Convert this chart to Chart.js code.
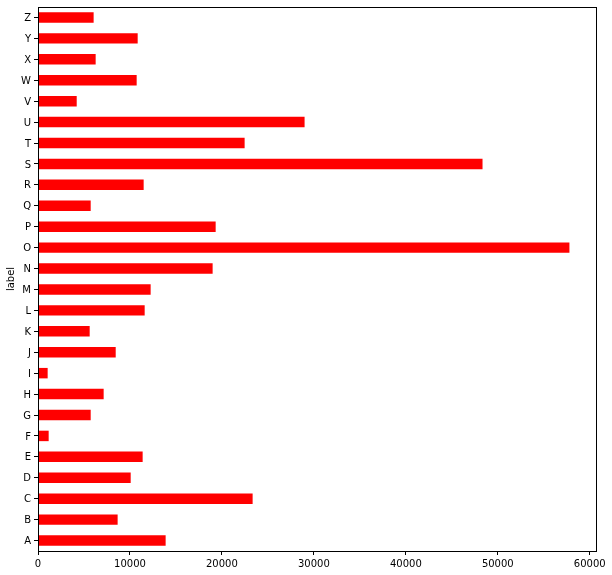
<!DOCTYPE html>
<html>
<head>
<meta charset="utf-8">
<script src="https://cdn.jsdelivr.net/npm/chart.js@4/dist/chart.umd.min.js"></script>
<style>
  html, body { margin: 0; padding: 0; background: #ffffff; }
  #wrap { width: 612px; height: 575px; }
</style>
</head>
<body>
<div id="wrap"><canvas id="c" width="612" height="575"></canvas></div>
<script>
const categories = ["A","B","C","D","E","F","G","H","I","J","K","L","M","N","O","P","Q","R","S","T","U","V","W","X","Y","Z"];
const values = [13880, 8660, 23340, 10080, 11380, 1160, 5730, 7140, 1050, 8450, 5620, 11600, 12250, 18990, 57790, 19320, 5730, 11490, 48340, 22470, 28990, 4210, 10730, 6270, 10840, 6050];
const xTicks = [0, 10000, 20000, 30000, 40000, 50000, 60000];
const yAxisTitle = "label";

const FONT = { family: "'DejaVu Sans', sans-serif", size: 10 };

const framePlugin = {
  id: 'frame',
  afterDraw(chart) {
    const a = chart.chartArea;
    const ctx = chart.ctx;
    ctx.save();
    ctx.strokeStyle = '#000000';
    ctx.lineWidth = 1;
    ctx.strokeRect(Math.round(a.left) + 0.5, Math.round(a.top) + 0.5,
                   Math.round(a.right) - Math.round(a.left), Math.round(a.bottom) - Math.round(a.top));
    ctx.restore();
  }
};

new Chart(document.getElementById('c'), {
  type: 'bar',
  data: {
    labels: categories,
    datasets: [{
      data: values,
      backgroundColor: '#ff0000',
      borderWidth: 0,
      categoryPercentage: 1.0,
      barPercentage: 0.5
    }]
  },
  options: {
    indexAxis: 'y',
    responsive: false,
    animation: false,
    devicePixelRatio: 1,
    layout: { padding: { top: 7, right: 16, bottom: 0, left: 0 } },
    plugins: { legend: { display: false }, tooltip: { enabled: false } },
    scales: {
      x: {
        type: 'linear',
        min: 0,
        max: Math.max(...values) * 1.05,
        afterBuildTicks(scale) { scale.ticks = xTicks.map(v => ({ value: v })); },
        afterFit(scale) { scale.height = 24; scale.paddingLeft = 0; scale.paddingRight = 0; },
        grid: { display: true, drawOnChartArea: false, drawTicks: true, tickLength: 4, color: '#000000', lineWidth: 1 },
        border: { display: false },
        ticks: { font: FONT, color: '#000000', padding: 3, maxRotation: 0, autoSkip: false,
                  callback: (v) => String(v) }
      },
      y: {
        type: 'category',
        reverse: true,
        offset: true,
        afterFit(scale) { scale.width = 38; scale.paddingTop = 0; scale.paddingBottom = 0; },
        grid: { display: true, offset: false, drawOnChartArea: false, drawTicks: true, tickLength: 4, color: '#000000', lineWidth: 1 },
        border: { display: false },
        title: { display: true, text: yAxisTitle, font: FONT, color: '#000000', padding: { top: 5, bottom: 4 } },
        ticks: { font: FONT, color: '#000000', padding: 3, autoSkip: false, labelOffset: 1 }
      }
    }
  },
  plugins: [framePlugin]
});
</script>
</body>
</html>
